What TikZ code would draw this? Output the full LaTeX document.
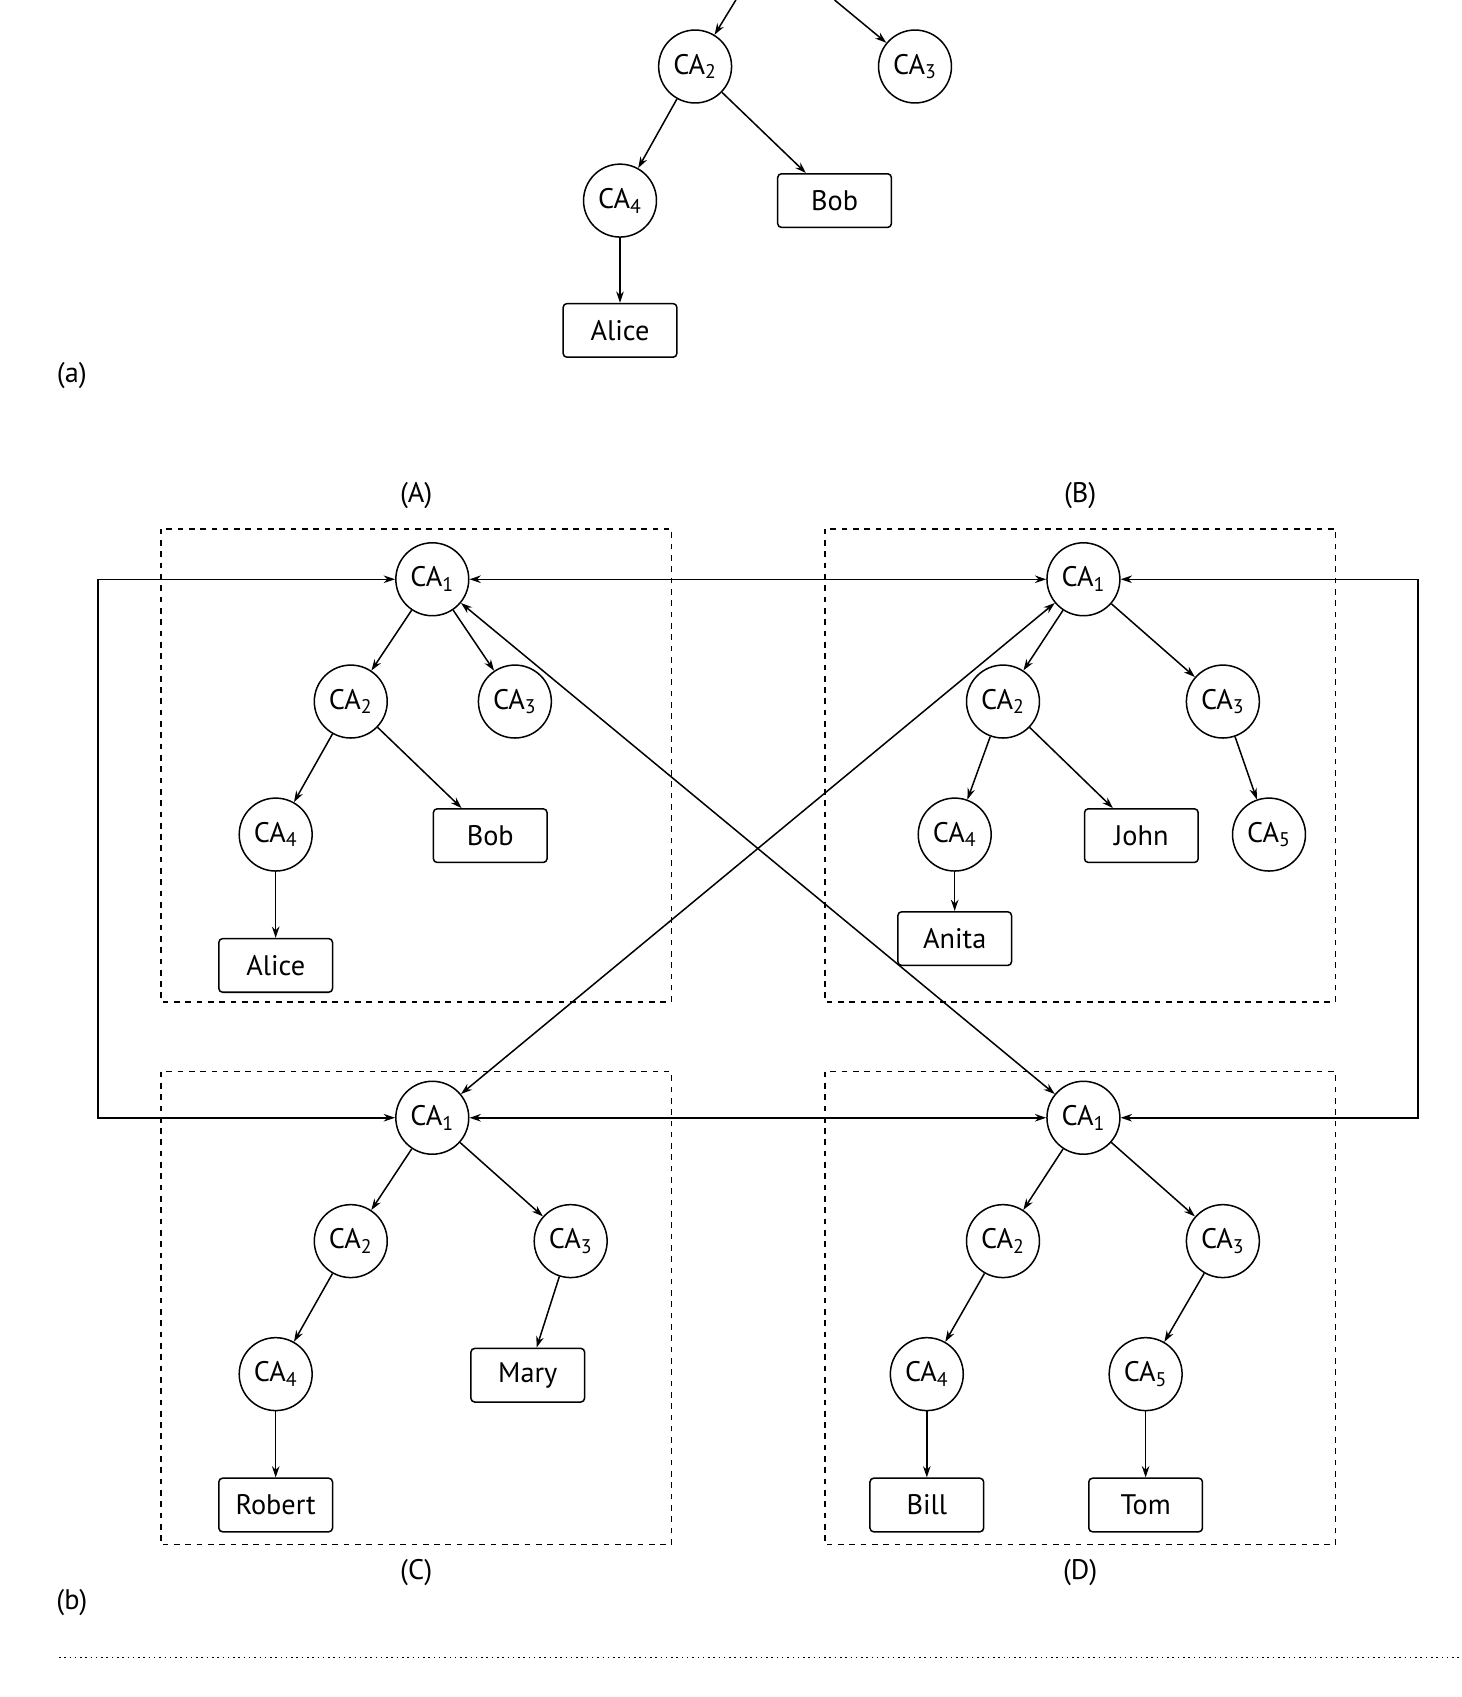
\documentclass[tikz,border=0pt]{standalone}
\usepackage{fontspec}
\setmainfont{PT Sans}
\usetikzlibrary{arrows.meta}
\tikzset{
  ca/.style={draw, circle, thick, minimum size=1.36cm, inner sep=0pt, font=\fontsize{15}{18}\selectfont},
  leaf/.style={draw, rounded corners=2pt, thick, minimum width=2.12cm, minimum height=1cm, font=\fontsize{15}{18}\selectfont},
  link/.style={-{Stealth[length=6pt,width=4pt]}, thick},
  both/.style={{Stealth[length=6pt,width=4pt]}-{Stealth[length=6pt,width=4pt]}, thick},
  lbl/.style={font=\fontsize{15}{18}\selectfont}
}
\newcommand{\CA}[1]{CA$_{\mathrm{#1}}$}
\begin{document}
\begin{tikzpicture}[x=0.02cm, y=-0.02cm]
\useasboundingbox (0,0) rectangle (1362,1582);
% (a)
\node[ca] (a2) at (648,62) {\CA{2}};
\node[ca] (a3) at (853,62) {\CA{3}};
\node[ca] (a4) at (578,187) {\CA{4}};
\node[leaf] (abob) at (778,187) {Bob};
\node[leaf] (aalice) at (578,308) {Alice};
\coordinate (t2) at (686,0); \coordinate (t3) at (778,0);
\draw[link] (t2) -- (a2); \draw[link] (t3) -- (a3);
\draw[link] (a2) -- (a4); \draw[link] (a2) -- (abob); \draw[link] (a4) -- (aalice);
\node[lbl] (la) at (67,350) {(a)};
% (b) frames
\foreach \x/\y/\t/\ty in {150/493/(A)/462, 769/493/(B)/462, 150/999/(C)/1466, 769/999/(D)/1466}
  {\draw[dashed, thick] (\x,\y) rectangle ++(476,441);
   \node[lbl] at (\x+238,\ty) {\t};}
\node[lbl] (lb) at (67,1494) {(b)};
% A
\node[ca] (A1) at (403,540) {\CA{1}};
\node[ca] (A2) at (327,654) {\CA{2}};
\node[ca] (A3) at (480,654) {\CA{3}};
\node[ca] (A4) at (257,778) {\CA{4}};
\node[leaf] (Abob) at (457,779) {Bob};
\node[leaf] (Aalice) at (257,900) {Alice};
\draw[link] (A1) -- (A2); \draw[link] (A1) -- (A3); \draw[link] (A2) -- (A4);
\draw[link] (A2) -- (Abob); \draw[link] (A4) -- (Aalice);
% B
\node[ca] (B1) at (1010,540) {\CA{1}};
\node[ca] (B2) at (935,654) {\CA{2}};
\node[ca] (B3) at (1140,654) {\CA{3}};
\node[ca] (B4) at (890,778) {\CA{4}};
\node[leaf] (Bjohn) at (1064,779) {John};
\node[ca] (B5) at (1183,778) {\CA{5}};
\node[leaf] (Banita) at (890,875) {Anita};
\draw[link] (B1) -- (B2); \draw[link] (B1) -- (B3); \draw[link] (B2) -- (B4);
\draw[link] (B2) -- (Bjohn); \draw[link] (B3) -- (B5); \draw[link] (B4) -- (Banita);
% C
\node[ca] (C1) at (403,1042) {\CA{1}};
\node[ca] (C2) at (327,1157) {\CA{2}};
\node[ca] (C3) at (532,1157) {\CA{3}};
\node[ca] (C4) at (257,1281) {\CA{4}};
\node[leaf] (Cmary) at (492,1282) {Mary};
\node[leaf] (Crobert) at (257,1403) {Robert};
\draw[link] (C1) -- (C2); \draw[link] (C1) -- (C3); \draw[link] (C2) -- (C4);
\draw[link] (C3) -- (Cmary); \draw[link] (C4) -- (Crobert);
% D
\node[ca] (D1) at (1010,1042) {\CA{1}};
\node[ca] (D2) at (935,1157) {\CA{2}};
\node[ca] (D3) at (1140,1157) {\CA{3}};
\node[ca] (D4) at (864,1281) {\CA{4}};
\node[ca] (D5) at (1068,1281) {\CA{5}};
\node[leaf] (Dbill) at (864,1403) {Bill};
\node[leaf] (Dtom) at (1068,1403) {Tom};
\draw[link] (D1) -- (D2); \draw[link] (D1) -- (D3); \draw[link] (D2) -- (D4);
\draw[link] (D3) -- (D5); \draw[link] (D4) -- (Dbill); \draw[link] (D5) -- (Dtom);
% cross links
\draw[both] (A1) -- (B1);
\draw[both] (C1) -- (D1);
\draw[both] (A1) -- (D1);
\draw[both] (B1) -- (C1);
\draw[both] (A1.west) -- ++(-277,0) |- (C1.west);
\draw[both] (B1.east) -- ++(277,0) |- (D1.east);
% rule
\draw[dotted, thick] (55,1545) -- (1362,1545);
\end{tikzpicture}
\end{document}
